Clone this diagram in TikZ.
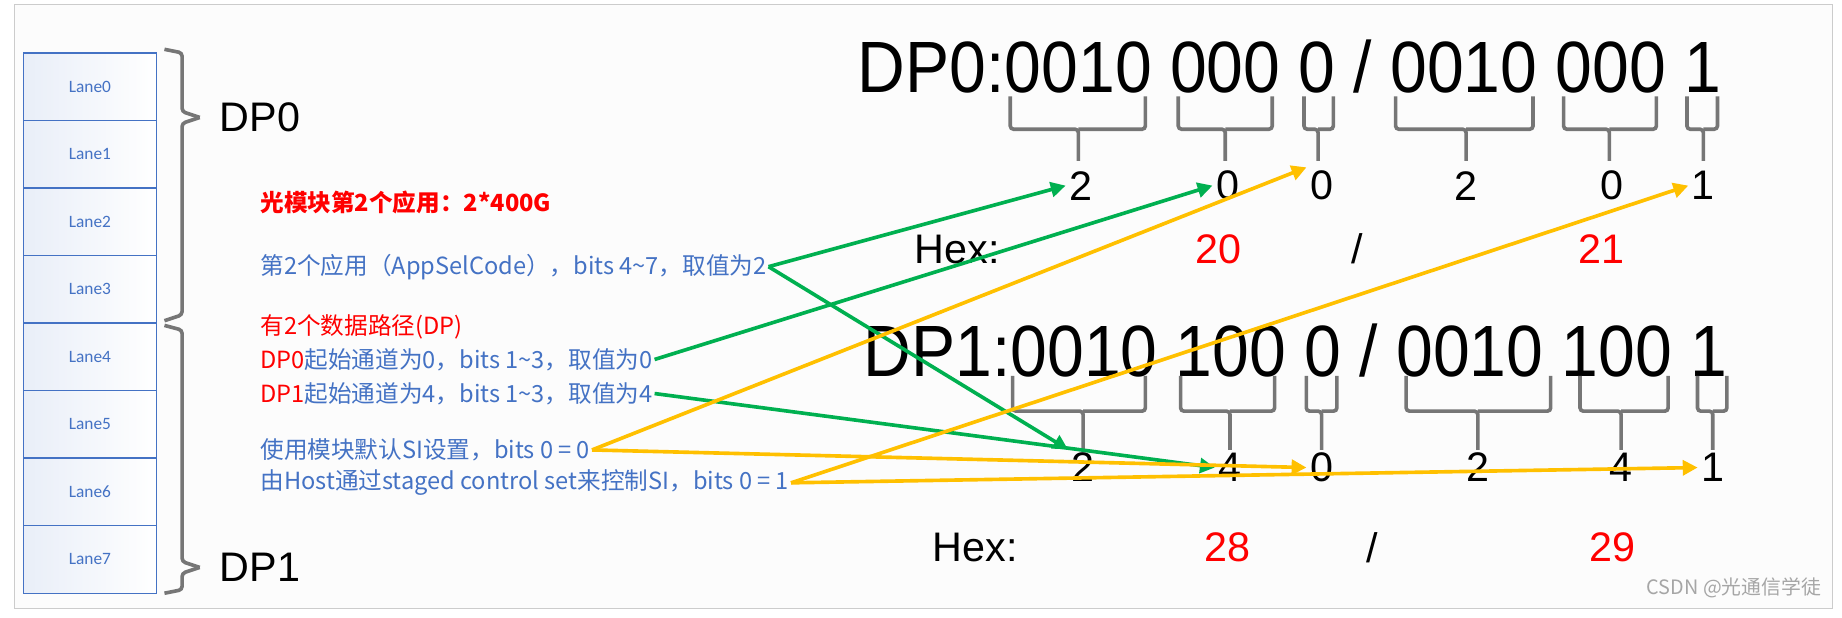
\documentclass[tikz,border=0pt]{standalone}
\usepackage{fontspec}
\setmainfont{Liberation Sans}
\newfontfamily\cjk{Noto Sans CJK SC}
\newfontfamily\carl{Carlito}
\usetikzlibrary{arrows.meta}
\definecolor{grn}{HTML}{00B050}
\definecolor{ylw}{HTML}{FFC000}
\definecolor{rd}{HTML}{FF0000}
\definecolor{bl}{HTML}{4472C4}
\definecolor{gr}{HTML}{767676}
\tikzset{
 lane/.style={draw=bl,line width=0.8pt,left color=bl!12,right color=white,minimum width=2.825cm,minimum height=1.4375cm,font=\carl\fontsize{10.5}{10.5}\selectfont,text=bl},
 brc/.style={draw=gr,line width=2.2pt,rounded corners=2pt},
 big/.style={font=\fontsize{40}{40}\selectfont,yscale=1.1,inner sep=0},
 dig/.style={font=\fontsize{25}{25}\selectfont,inner sep=2pt},
 info/.style={font=\cjk\fontsize{14.3}{14.3}\selectfont,text=bl,anchor=west,inner sep=1pt},
 garr/.style={draw=grn,line width=2.2pt,-{Triangle[length=9pt,width=9pt]}},
 yarr/.style={draw=ylw,line width=2.2pt,-{Triangle[length=9pt,width=9pt]}},
}
\newcommand{\tbrace}[6]{% x1 xm x2 ytop ybar ytip
 \draw[brc] (#1,#4) -- (#1,#5) -- (#2,#5) -- (#2,#6);
 \draw[brc] (#3,#4) -- (#3,#5) -- (#2,#5);}
\begin{document}
\begin{tikzpicture}[x=0.025cm,y=-0.025cm]
\useasboundingbox (0,0) rectangle (1568,526);
\fill[white] (0,0) rectangle (1568,526);
\draw[gray!40,fill=black!1] (12,4) rectangle (1560,518);
% lanes
\foreach \i in {0,...,7}{
 \node[lane] (lane\i) at (76.5,{73.75+57.5*\i}) {Lane\i};
}
% left braces
\draw[brc] (140,42) -- (155,45) -- (155,95) -- (170,100);
\draw[brc] (170,100) -- (155,105) -- (155,268) -- (140,273);
\draw[brc] (140,277) -- (155,281) -- (155,478) -- (170,483);
\draw[brc] (170,483) -- (155,488) -- (155,502) -- (140,505);
\node[font=\fontsize{25}{25}\selectfont,anchor=west] (dp0l) at (182,100) {DP0};
\node[font=\fontsize{25}{25}\selectfont,anchor=west] (dp1l) at (182,483) {DP1};
% info text
\node[info,text=rd,font=\cjk\bfseries\fontsize{14.3}{14.3}\selectfont] (t0) at (220,172) {光模块第2个应用：2*400G};
\node[info] (t1) at (220,227) {第2个应用（AppSelCode），bits 4\textasciitilde7，取值为2};
\node[info,text=rd] (t2) at (220,278) {有2个数据路径(DP)};
\node[info] (t3) at (220,306) {\textcolor{rd}{DP0}起始通道为0，bits 1\textasciitilde3，取值为0};
\node[info] (t4) at (220,335) {\textcolor{rd}{DP1}起始通道为4，bits 1\textasciitilde3，取值为4};
\node[info] (t5) at (220,383) {使用模块默认SI设置，bits 0 = 0};
\node[info] (t6) at (220,411) {由Host通过staged control set来控制SI，bits 0 = 1};
% big texts
\node[big,anchor=west] (b0) at (730,57) {DP0:0010 000 0 / 0010 000 1};
\node[big,anchor=west] (b1) at (735,298) {DP1:0010 100 0 / 0010 100 1};
% braces
\tbrace{860}{918}{975}{82}{110}{137}
\tbrace{1003}{1043}{1083}{82}{110}{137}
\tbrace{1110}{1122}{1135}{82}{110}{137}
\tbrace{1188}{1248}{1305}{82}{110}{137}
\tbrace{1331}{1370}{1410}{82}{110}{137}
\tbrace{1436}{1450}{1462}{82}{110}{137}
\tbrace{862}{922}{975}{320}{350}{383}
\tbrace{1005}{1047}{1085}{320}{350}{383}
\tbrace{1112}{1125}{1138}{320}{350}{383}
\tbrace{1197}{1258}{1320}{320}{350}{383}
\tbrace{1345}{1380}{1420}{320}{350}{383}
\tbrace{1445}{1458}{1470}{320}{350}{383}
% digits
\node[dig] (a1) at (920,158) {2};
\node[dig] (a2) at (1045,158) {0};
\node[dig] (a3) at (1125,158) {0};
\node[dig] (a4) at (1248,158) {2};
\node[dig] (a5) at (1372,158) {0};
\node[dig] (a6) at (1450,158) {1};
\node[dig] (c1) at (922,398) {2};
\node[dig] (c2) at (1047,398) {4};
\node[dig] (c3) at (1125,398) {0};
\node[dig] (c4) at (1258,398) {2};
\node[dig] (c5) at (1380,398) {4};
\node[dig] (c6) at (1458,398) {1};
% hex
\node[dig] (h0) at (815,212) {Hex:};
\node[dig,text=rd] (h1) at (1037,212) {20};
\node[dig] (h2) at (1155,212) {/};
\node[dig,text=rd] (h3) at (1363,212) {21};
\node[dig] (k0) at (830,466) {Hex:};
\node[dig,text=rd] (k1) at (1045,466) {28};
\node[dig] (k2) at (1168,466) {/};
\node[dig,text=rd] (k3) at (1373,466) {29};
% arrows
\draw[garr] (t1.east) -- (a1.west);
\draw[garr] (t1.east) -- (c1.north west);
\draw[garr] (t3.east) -- (a2.west);
\draw[garr] (t4.east) -- (c2.west);
\draw[yarr] (t5.east) -- (a3.north west);
\draw[yarr] (t5.east) -- (c3.west);
\draw[yarr] (t6.east) -- (a6.west);
\draw[yarr] (t6.east) -- (c6.west);
\node[font=\cjk\fontsize{12}{12}\selectfont,text=gray!70,anchor=east] (wm) at (1555,500) {CSDN @光通信学徒};
\end{tikzpicture}
\end{document}
